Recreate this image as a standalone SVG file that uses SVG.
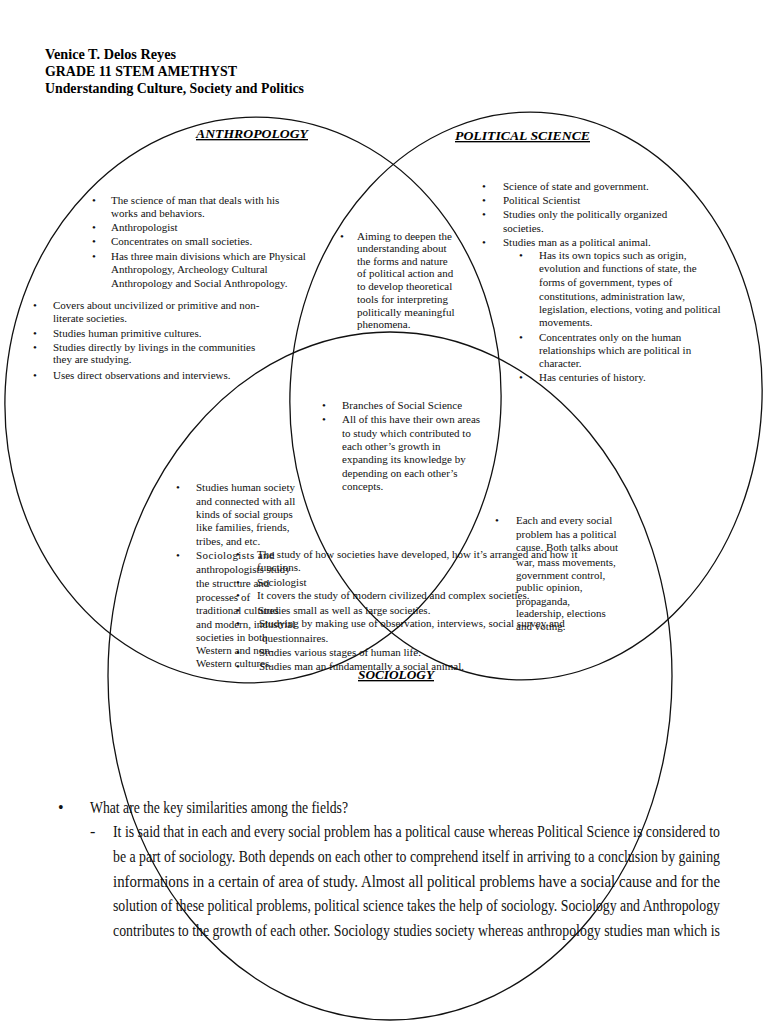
<svg xmlns="http://www.w3.org/2000/svg" width="768" height="1024" viewBox="0 0 768 1024">
<style>
.c{fill:none;stroke:#111;stroke-width:1.3}
.h{font-family:"Liberation Serif","Times New Roman",serif;font-weight:bold;font-size:14px;fill:#000}
.t{font-family:"Liberation Serif","Times New Roman",serif;font-weight:bold;font-style:italic;font-size:13.5px;fill:#000;text-decoration:underline}
.s{font-family:"Liberation Serif","Times New Roman",serif;font-size:11px;fill:#111}
.p{font-family:"Liberation Serif","Times New Roman",serif;font-size:16px;fill:#111}
</style>
<rect width="768" height="1024" fill="#fff"/>
<g id="header">
<text class="h" x="45" y="59" textLength="131" lengthAdjust="spacingAndGlyphs">Venice T. Delos Reyes</text>
<text class="h" x="45" y="76" textLength="192" lengthAdjust="spacingAndGlyphs">GRADE 11 STEM AMETHYST</text>
<text class="h" x="45" y="93" textLength="259" lengthAdjust="spacingAndGlyphs">Understanding Culture, Society and Politics</text>
</g>
<g id="circles">
<ellipse id="anthropology-circle" class="c" cx="253" cy="400" rx="248" ry="283" transform="rotate(3 253 400)"/>
<ellipse id="political-science-circle" class="c" cx="526" cy="396" rx="236" ry="284" transform="rotate(3 526 396)"/>
<ellipse id="sociology-circle" class="c" cx="390" cy="676" rx="282" ry="344"/>
</g>
<g id="anthropology">
<text class="t" x="196" y="138" textLength="112" lengthAdjust="spacingAndGlyphs">ANTHROPOLOGY</text>
<g class="s">
<text x="92" y="204">•</text><text x="111" y="204">The science of man that deals with his</text>
<text x="111" y="217">works and behaviors.</text>
<text x="92" y="231">•</text><text x="111" y="231">Anthropologist</text>
<text x="92" y="245">•</text><text x="111" y="245">Concentrates on small societies.</text>
<text x="92" y="260">•</text><text x="111" y="260">Has three main divisions which are Physical</text>
<text x="111" y="273">Anthropology, Archeology Cultural</text>
<text x="111" y="287">Anthropology and Social Anthropology.</text>
<text x="33" y="309">•</text><text x="53" y="309">Covers about uncivilized or primitive and non-</text>
<text x="53" y="322">literate societies.</text>
<text x="33" y="337">•</text><text x="53" y="337">Studies human primitive cultures.</text>
<text x="33" y="351">•</text><text x="53" y="351">Studies directly by livings in the communities</text>
<text x="53" y="363">they are studying.</text>
<text x="33" y="379">•</text><text x="53" y="379">Uses direct observations and interviews.</text>
</g>
</g>
<g id="anthropology-political-science">
<g class="s">
<text x="340" y="240">•</text><text x="357" y="240">Aiming to deepen the</text>
<text x="357" y="252">understanding about</text>
<text x="357" y="265">the forms and nature</text>
<text x="357" y="277">of political action and</text>
<text x="357" y="290">to develop theoretical</text>
<text x="357" y="303">tools for interpreting</text>
<text x="357" y="316">politically meaningful</text>
<text x="357" y="328">phenomena.</text>
</g>
</g>
<g id="political-science">
<text class="t" x="455" y="140" textLength="135" lengthAdjust="spacingAndGlyphs">POLITICAL SCIENCE</text>
<g class="s">
<text x="482" y="190">•</text><text x="503" y="190">Science of state and government.</text>
<text x="482" y="204">•</text><text x="503" y="204">Political Scientist</text>
<text x="482" y="218">•</text><text x="503" y="218">Studies only the politically organized</text>
<text x="503" y="232">societies.</text>
<text x="482" y="246">•</text><text x="503" y="246">Studies man as a political animal.</text>
<text x="519" y="259">•</text><text x="539" y="259">Has its own topics such as origin,</text>
<text x="539" y="272">evolution and functions of state, the</text>
<text x="539" y="286">forms of government, types of</text>
<text x="539" y="300">constitutions, administration law,</text>
<text x="539" y="313">legislation, elections, voting and political</text>
<text x="539" y="326">movements.</text>
<text x="519" y="341">•</text><text x="539" y="341">Concentrates only on the human</text>
<text x="539" y="354">relationships which are political in</text>
<text x="539" y="367">character.</text>
<text x="519" y="381">•</text><text x="539" y="381">Has centuries of history.</text>
</g>
</g>
<g id="all-three">
<g class="s">
<text x="322" y="409">•</text><text x="342" y="409">Branches of Social Science</text>
<text x="322" y="423">•</text><text x="342" y="423">All of this have their own areas</text>
<text x="342" y="437">to study which contributed to</text>
<text x="342" y="450">each other’s growth in</text>
<text x="342" y="463">expanding its knowledge by</text>
<text x="342" y="477">depending on each other’s</text>
<text x="342" y="490">concepts.</text>
</g>
</g>
<g id="anthropology-sociology">
<g class="s">
<text x="176" y="491">•</text><text x="196" y="491">Studies human society</text>
<text x="196" y="505">and connected with all</text>
<text x="196" y="518">kinds of social groups</text>
<text x="196" y="531">like families, friends,</text>
<text x="196" y="545">tribes, and etc.</text>
<text x="176" y="559">•</text><text x="196" y="559" letter-spacing="0.4">Sociologists and</text>
<text x="196" y="573">anthropologists study</text>
<text x="196" y="587">the structure and</text>
<text x="196" y="601">processes of</text>
<text x="196" y="614">traditional cultures</text>
<text x="196" y="628">and modern, industrial</text>
<text x="196" y="641">societies in both</text>
<text x="196" y="654">Western and non-</text>
<text x="196" y="667">Western cultures.</text>
</g>
</g>
<g id="sociology">
<text class="t" x="358" y="679" textLength="76" lengthAdjust="spacingAndGlyphs">SOCIOLOGY</text>
<g class="s">
<text x="236" y="558">•</text><text x="257" y="558">The study of how societies have developed, how it’s arranged and how it</text>
<text x="257" y="571">functions.</text>
<text x="236" y="586">•</text><text x="257" y="586">Sociologist</text>
<text x="236" y="599">•</text><text x="257" y="599">It covers the study of modern civilized and complex societies.</text>
<text x="236" y="614">•</text><text x="258" y="614">Studies small as well as large societies.</text>
<text x="236" y="627">•</text><text x="259" y="627">Studying by making use of observation, interviews, social survey and</text>
<text x="262" y="642">questionnaires.</text>
<text x="236" y="656">•</text><text x="259" y="656">Studies various stages of human life.</text>
<text x="236" y="670">•</text><text x="259" y="670">Studies man an fundamentally a social animal.</text>
</g>
</g>
<g id="political-science-sociology">
<g class="s">
<text x="495" y="524">•</text><text x="516" y="524">Each and every social</text>
<text x="516" y="538">problem has a political</text>
<text x="516" y="551">cause. Both talks about</text>
<text x="516" y="566">war, mass movements,</text>
<text x="516" y="579">government control,</text>
<text x="516" y="591">public opinion,</text>
<text x="516" y="605">propaganda,</text>
<text x="516" y="617">leadership, elections</text>
<text x="516" y="630">and voting.</text>
</g>
</g>
<g id="similarities">
<g class="p">
<text x="58" y="813">•</text>
<text x="90" y="813" textLength="258" lengthAdjust="spacingAndGlyphs">What are the key similarities among the fields?</text>
<text x="90" y="837">-</text>
<text x="113" y="837" textLength="607" lengthAdjust="spacingAndGlyphs">It is said that in each and every social problem has a political cause whereas Political Science is considered to</text>
<text x="113" y="862" textLength="607" lengthAdjust="spacingAndGlyphs">be a part of sociology. Both depends on each other to comprehend itself in arriving to a conclusion by gaining</text>
<text x="113" y="887" textLength="607" lengthAdjust="spacingAndGlyphs">informations in a certain of area of study. Almost all political problems have a social cause and for the</text>
<text x="113" y="911" textLength="607" lengthAdjust="spacingAndGlyphs">solution of these political problems, political science takes the help of sociology. Sociology and Anthropology</text>
<text x="113" y="936" textLength="607" lengthAdjust="spacingAndGlyphs">contributes to the growth of each other. Sociology studies society whereas anthropology studies man which is</text>
</g>
</g>
</svg>
